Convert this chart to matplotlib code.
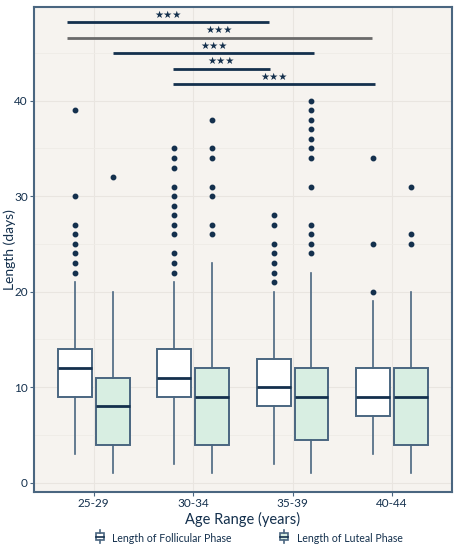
import matplotlib
matplotlib.use("Agg")
import matplotlib.pyplot as plt
from matplotlib.patches import Rectangle
from matplotlib.lines import Line2D
from matplotlib.legend_handler import HandlerBase

plt.rcParams['font.family'] = ['Lato', 'DejaVu Sans']

ages = ['25-29', '30-34', '35-39', '40-44']

# box stats: q1, median, q3, whisker low, whisker high
foll_q1 = [9, 9, 8, 7]
foll_med = [12, 11, 10, 9]
foll_q3 = [14, 14, 13, 12]
foll_lo = [3, 2, 2, 3]
foll_hi = [21, 21, 20, 19]
foll_out = [
    [39, 30, 27, 26, 25, 24, 23, 22],
    [35, 34, 33, 31, 30, 29, 28, 27, 26, 24, 23, 22],
    [28, 27, 25, 24, 23, 22, 21],
    [34, 25, 20],
]

lut_q1 = [4, 4, 4.5, 4]
lut_med = [8, 9, 9, 9]
lut_q3 = [11, 12, 12, 12]
lut_lo = [1, 1, 1, 1]
lut_hi = [20, 23, 22, 20]
lut_out = [
    [32],
    [38, 35, 34, 31, 30, 27, 26],
    [40, 39, 38, 37, 36, 35, 34, 31, 27, 26, 25, 24],
    [31, 26, 25],
]

# significance brackets: start x, end x (category units), height
sig_x0 = [-0.27, -0.27, 0.19, 0.80, 0.80]
sig_x1 = [1.76, 2.80, 2.22, 1.77, 2.83]
sig_y = [48.2, 46.6, 45.0, 43.35, 41.75]
sig_lab = ['★★★'] * 5
sig_col = ['#14304d', '#6a6a6a', '#14304d', '#14304d', '#14304d']

navy = '#14304d'
edge = '#4a6680'
bg = '#f6f3ef'
green = '#d8eee2'


def stats(q1, med, q3, lo, hi, out):
    return [dict(q1=a, med=b, q3=c, whislo=d, whishi=e, fliers=f)
            for a, b, c, d, e, f in zip(q1, med, q3, lo, hi, out)]


fig = plt.figure(figsize=(4.6, 5.5), dpi=100)
ax = fig.add_axes([0.074, 0.106, 0.908, 0.882])
ax.set_facecolor(bg)

pos = list(range(len(ages)))
common = dict(widths=0.34, patch_artist=True,
              whiskerprops=dict(color=edge, lw=1.2),
              capprops=dict(visible=False),
              medianprops=dict(color=navy, lw=2),
              flierprops=dict(marker='o', markersize=3.2, markerfacecolor=navy,
                              markeredgecolor=navy, linestyle='none'))
b1 = ax.bxp(stats(foll_q1, foll_med, foll_q3, foll_lo, foll_hi, foll_out),
            positions=[p - 0.19 for p in pos],
            boxprops=dict(facecolor='white', edgecolor=edge, lw=1.4), **common)
b2 = ax.bxp(stats(lut_q1, lut_med, lut_q3, lut_lo, lut_hi, lut_out),
            positions=[p + 0.19 for p in pos],
            boxprops=dict(facecolor=green, edgecolor=edge, lw=1.4), **common)

for x0, x1, y, lab, c in zip(sig_x0, sig_x1, sig_y, sig_lab, sig_col):
    ax.plot([x0, x1], [y, y], color=c, lw=2, solid_capstyle='butt', zorder=3)
    ax.text((x0 + x1) / 2, y + 0.45, lab, ha='center', va='baseline',
            color=navy, fontsize=7.3, family='DejaVu Sans')

ax.set_xlim(-0.6, 3.6)
ax.set_ylim(-0.94, 49.85)
ax.set_xticks(pos)
ax.set_xticklabels(ages)
ax.set_yticks([0, 10, 20, 30, 40])
ax.set_yticks([5, 15, 25, 35, 45], minor=True)
ax.grid(True, which='major', color='#e9e5e0', lw=0.8)
ax.grid(True, which='minor', axis='y', color='#eeebe6', lw=0.6)
ax.set_axisbelow(True)
ax.tick_params(colors=edge, labelcolor=navy, labelsize=8.5, length=3, pad=1.5)
ax.tick_params(which='minor', length=0)
for s in ax.spines.values():
    s.set_color(edge)
    s.set_linewidth(1.5)

ax.set_xlabel('Age Range (years)', color=navy, fontsize=10.5, labelpad=2)
ax.set_ylabel('Length (days)', color=navy, fontsize=10)
ax.yaxis.set_label_coords(-0.043, 0.5)


class BoxGlyph(HandlerBase):
    def __init__(self, face):
        super().__init__()
        self.face = face

    def create_artists(self, legend, orig, xd, yd, w, h, fs, trans):
        cx = xd + w / 2
        r = Rectangle((xd, yd + h * 0.1), w, h * 0.8, facecolor=self.face,
                      edgecolor=edge, lw=1.2, transform=trans)
        m = Line2D([xd, xd + w], [yd + h / 2] * 2, color=navy, lw=1.2,
                   transform=trans)
        t = Line2D([cx, cx], [yd + h * 0.9, yd + h * 1.2], color=edge, lw=1.2,
                   transform=trans)
        b = Line2D([cx, cx], [yd - h * 0.2, yd + h * 0.1], color=edge, lw=1.2,
                   transform=trans)
        return [r, m, t, b]


h1 = Rectangle((0, 0), 1, 1)
h2 = Rectangle((0, 0), 1, 1)
fig.legend([h1, h2], ['Length of Follicular Phase', 'Length of Luteal Phase'],
           handler_map={h1: BoxGlyph('white'), h2: BoxGlyph(green)},
           loc='center', bbox_to_anchor=(0.542, 0.02), ncol=2, frameon=False,
           fontsize=7.6, labelcolor=navy, handlelength=0.75, handleheight=1.0,
           handletextpad=0.8, columnspacing=4.6)

fig.savefig('out.png', dpi=100)
